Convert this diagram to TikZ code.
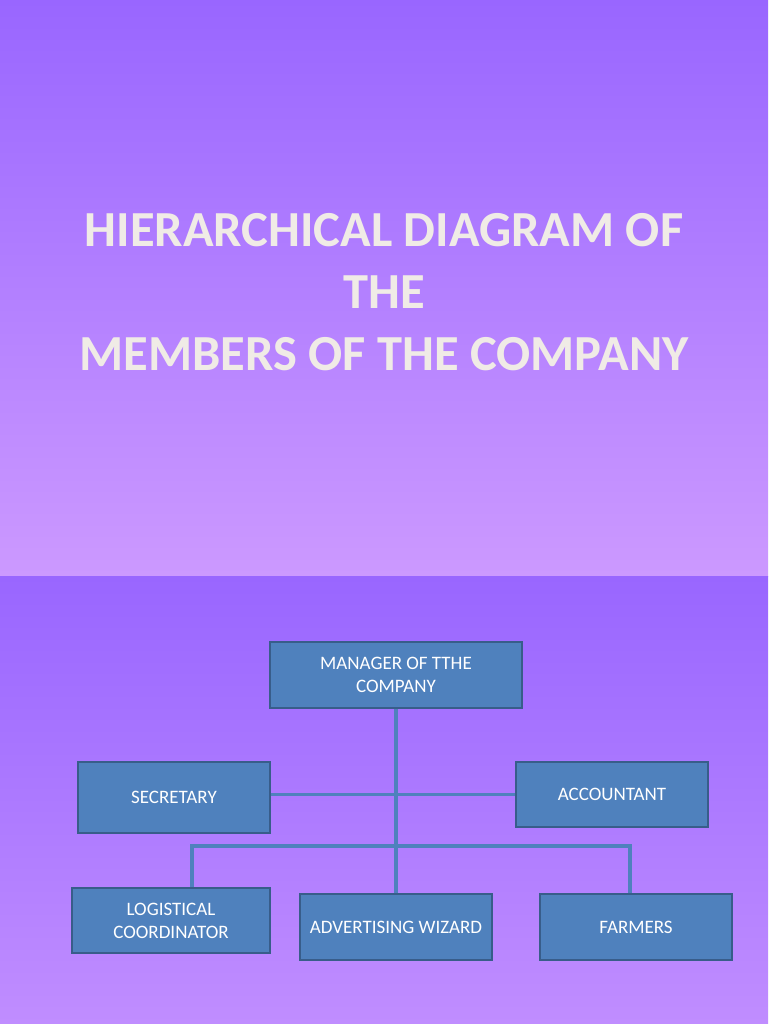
\documentclass[tikz,border=0pt]{standalone}
\usepackage{fontspec}
\setmainfont{Carlito}
\definecolor{slidetop}{RGB}{153,102,255}
\definecolor{slidebot}{RGB}{204,153,255}
\definecolor{slidemid}{RGB}{192,141,255}
\definecolor{boxfill}{RGB}{79,129,189}
\definecolor{boxline}{RGB}{56,93,138}
\definecolor{titletext}{RGB}{240,235,230}
\tikzset{
  orgbox/.style={draw=boxline, line width=1.5pt, fill=boxfill, text=white, align=center,
    inner sep=2pt, font=\fontsize{19}{23}\selectfont},
  link/.style={draw=boxfill, line width=3.5pt}
}
\begin{document}
\begin{tikzpicture}[x=1pt,y=-1pt]
\useasboundingbox (0,0) rectangle (768,1024);
\shade[top color=slidetop, bottom color=slidebot] (0,0) rectangle (768,576);
\shade[top color=slidetop, bottom color=slidemid] (0,576) rectangle (768,1024);
\node[text=titletext, align=center, font=\fontsize{50.5}{62}\selectfont\bfseries] (title) at (384,292)
  {HIERARCHICAL DIAGRAM OF\\THE\\MEMBERS OF THE COMPANY};
\node[orgbox, minimum width=252pt, minimum height=66pt] (mgr) at (396,675) {MANAGER OF TTHE\\COMPANY};
\node[orgbox, minimum width=192pt, minimum height=71pt] (sec) at (174,797.5) {SECRETARY};
\node[orgbox, minimum width=192pt, minimum height=65pt] (acc) at (612,794.5) {ACCOUNTANT};
\node[orgbox, minimum width=198pt, minimum height=65pt] (log) at (171,920.5) {LOGISTICAL\\COORDINATOR};
\node[orgbox, minimum width=192pt, minimum height=66pt] (adv) at (396,927) {ADVERTISING WIZARD};
\node[orgbox, minimum width=192pt, minimum height=66pt] (farm) at (636,927) {FARMERS};
\coordinate (jl) at (192,846);
\coordinate (jr) at (630,846);
\draw[link] (mgr.south) -- (adv.north);
\draw[link] (sec.east |- acc.west) -- (acc.west);
\draw[link] (jl |- log.north) -- (jl) -- (jr) -- (jr |- farm.north);
\end{tikzpicture}
\end{document}
